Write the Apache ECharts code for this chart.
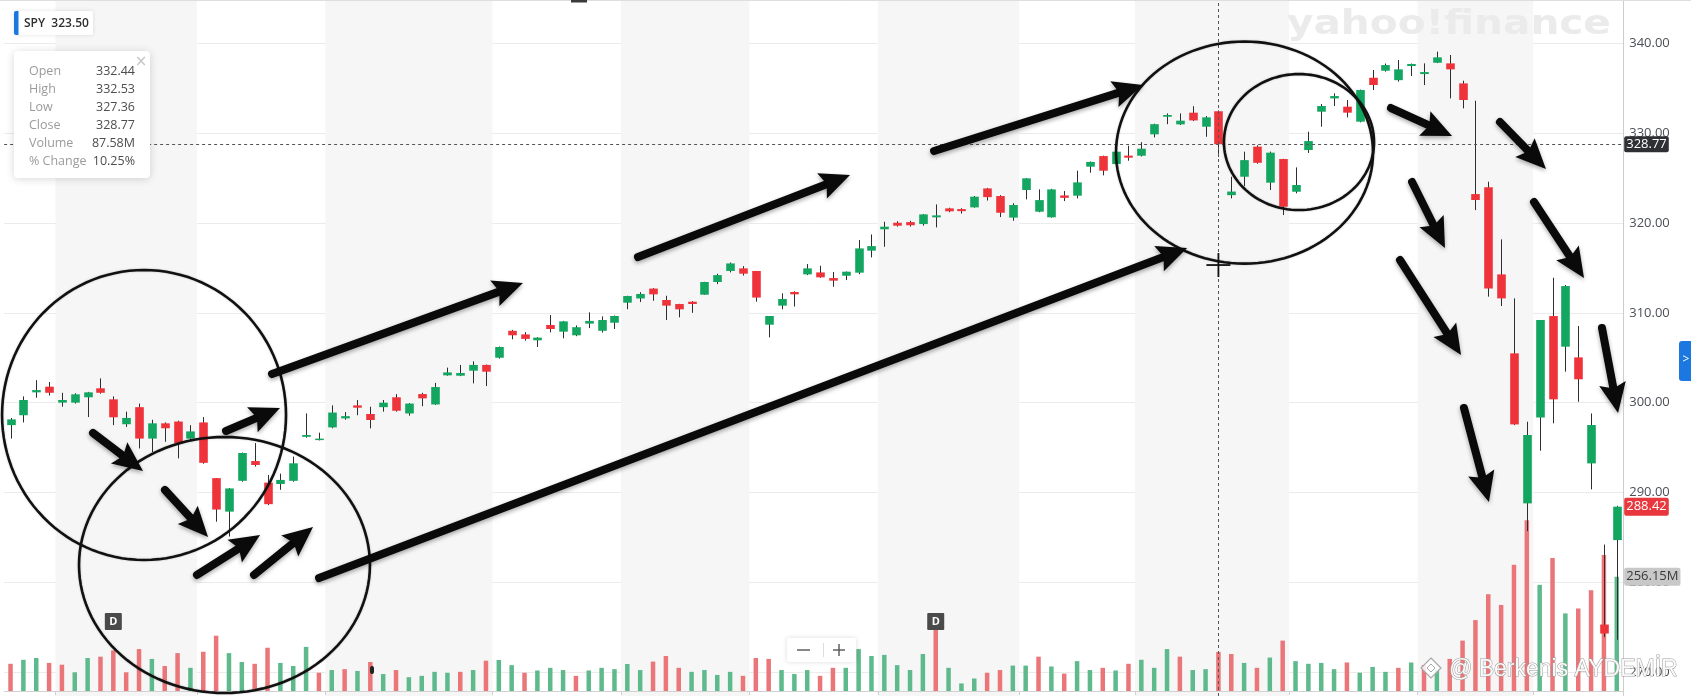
<!DOCTYPE html>
<html><head><meta charset="utf-8">
<script src="https://cdn.jsdelivr.net/npm/echarts@6/dist/echarts.min.js"></script>
<style>html,body{margin:0;padding:0;background:#fff;}#c{width:1691px;height:696px;}</style>
</head><body><div id="c"></div>
<script>
// ---------------- DATA (SPY daily) ----------------
const dates = [
'2019-09-10','2019-09-11','2019-09-12','2019-09-13','2019-09-16','2019-09-17','2019-09-18','2019-09-19','2019-09-20','2019-09-23','2019-09-24','2019-09-25','2019-09-26','2019-09-27','2019-09-30',
'2019-10-01','2019-10-02','2019-10-03','2019-10-04','2019-10-07','2019-10-08','2019-10-09','2019-10-10','2019-10-11','2019-10-14','2019-10-15','2019-10-16','2019-10-17','2019-10-18','2019-10-21','2019-10-22','2019-10-23','2019-10-24','2019-10-25','2019-10-28','2019-10-29','2019-10-30','2019-10-31',
'2019-11-01','2019-11-04','2019-11-05','2019-11-06','2019-11-07','2019-11-08','2019-11-11','2019-11-12','2019-11-13','2019-11-14','2019-11-15','2019-11-18','2019-11-19','2019-11-20','2019-11-21','2019-11-22','2019-11-25','2019-11-26','2019-11-27','2019-11-29',
'2019-12-02','2019-12-03','2019-12-04','2019-12-05','2019-12-06','2019-12-09','2019-12-10','2019-12-11','2019-12-12','2019-12-13','2019-12-16','2019-12-17','2019-12-18','2019-12-19','2019-12-20','2019-12-23','2019-12-24','2019-12-26','2019-12-27','2019-12-30','2019-12-31',
'2020-01-02','2020-01-03','2020-01-06','2020-01-07','2020-01-08','2020-01-09','2020-01-10','2020-01-13','2020-01-14','2020-01-15','2020-01-16','2020-01-17','2020-01-21','2020-01-22','2020-01-23','2020-01-24','2020-01-27','2020-01-28','2020-01-29','2020-01-30','2020-01-31',
'2020-02-03','2020-02-04','2020-02-05','2020-02-06','2020-02-07','2020-02-10','2020-02-11','2020-02-12','2020-02-13','2020-02-14','2020-02-18','2020-02-19','2020-02-20','2020-02-21','2020-02-24','2020-02-25','2020-02-26','2020-02-27','2020-02-28',
'2020-03-02','2020-03-03','2020-03-04','2020-03-05','2020-03-06','2020-03-09','2020-03-10'];

const opens = [297.5,298.6,301.15,301.78,300.0,300.0,300.6,301.6,300.37,297.6,299.5,296.0,297.7,297.9,296.0,
297.8,291.6,287.87,291.3,293.5,291.1,290.95,291.3,296.2,295.85,297.25,298.25,299.7,298.74,299.5,300.6,298.8,300.96,299.8,303.04,303.0,303.56,304.2,
305.0,308.0,307.6,306.94,308.65,307.9,307.5,308.8,308.0,308.9,311.13,311.6,312.7,311.43,310.98,311.24,312.02,313.43,314.66,314.95,
314.66,308.68,310.8,312.32,314.28,314.5,313.87,314.13,314.47,316.92,319.3,320.03,320.1,319.88,320.63,321.63,321.55,321.74,323.85,323.0,320.6,
323.67,321.26,320.63,323.07,323.04,326.27,327.45,326.56,327.5,327.49,329.87,331.83,330.98,332.28,330.72,332.44,323.1,325.15,328.5,324.49,327.12,
323.48,328.12,332.39,333.87,332.95,331.28,336.17,336.95,335.9,337.47,336.58,337.84,337.77,335.54,323.22,323.97,314.28,305.49,288.79,
298.36,309.64,306.23,305.04,293.24,275.3,284.7];

const highs = [298.3,300.7,302.5,302.3,301.1,301.05,301.2,302.7,300.7,299.0,299.9,298.1,297.8,298.0,297.5,
298.4,291.6,290.5,294.45,295.5,291.95,292.1,294.0,298.8,296.66,299.7,298.95,300.3,299.55,300.3,300.95,299.95,301.1,302.2,303.9,304.2,304.6,304.25,
306.25,308.1,307.85,307.3,309.76,309.1,308.6,310.05,309.6,309.7,311.9,312.3,312.75,311.9,311.0,311.3,313.45,314.35,315.6,315.2,
314.66,309.65,312.17,312.4,315.43,315.24,314.54,314.6,318.1,318.73,320.14,320.2,320.25,321.0,322.07,321.7,321.65,323.0,323.9,323.1,322.2,
325.0,323.74,323.8,323.56,325.82,326.85,327.5,328.0,328.6,329.0,331.05,332.2,332.2,333.0,331.9,332.53,325.15,327.94,328.65,327.95,327.15,
326.19,330.16,333.24,334.43,333.69,334.85,337.03,337.75,338.14,337.75,337.77,339.07,338.7,335.84,333.61,324.6,318.18,311.61,297.88,
309.2,313.91,313.1,308.53,298.8,284.2,288.52];

const lows = [296.0,297.8,300.55,300.8,299.55,299.9,298.4,301.0,297.5,297.3,294.9,294.5,295.65,293.8,295.85,
293.2,286.75,285.1,291.2,292.9,288.6,290.3,291.2,296.1,295.8,297.15,298.1,298.6,297.14,299.0,299.0,298.55,299.6,299.75,303.0,302.95,302.15,301.85,
304.9,307.05,306.9,306.2,307.83,307.16,307.4,308.3,307.8,308.2,310.4,311.2,311.35,309.2,309.5,310.0,312.0,313.2,314.5,314.15,
311.24,307.27,310.39,310.7,314.2,313.9,312.9,313.65,314.3,316.17,317.36,319.6,319.6,319.7,319.51,321.2,321.05,321.7,322.5,320.66,320.25,
322.63,321.2,320.6,322.44,322.74,325.6,325.3,326.5,326.93,327.4,329.53,331.0,330.9,331.35,329.6,327.36,322.74,324.1,326.6,323.67,320.89,
323.3,327.8,330.72,333.02,331.76,331.2,334.8,336.85,335.73,336.36,335.36,337.8,333.87,332.76,321.44,311.8,310.76,297.5,285.7,
294.65,297.7,303.45,300.1,290.35,273.9,273.6];

const closes = [298.14,300.3,301.4,301.1,300.3,300.93,301.15,301.1,298.37,298.3,296.0,297.7,297.15,295.5,296.8,
293.3,288.1,290.45,294.4,293.06,288.7,291.4,293.25,296.4,296.0,298.9,298.5,299.44,298.07,300.0,299.1,299.9,300.48,301.74,303.37,303.3,304.2,303.45,
306.2,307.5,307.1,307.24,308.2,309.05,308.4,309.1,309.2,309.65,311.87,312.1,312.06,310.8,310.39,310.98,313.43,314.2,315.5,314.36,
311.7,309.65,311.54,312.06,314.95,313.95,313.58,314.58,317.17,317.43,319.59,319.7,319.75,320.96,320.85,321.3,321.32,322.93,322.88,321.14,322.0,
324.97,322.55,323.74,322.8,324.52,326.8,325.82,327.94,327.27,328.27,331.0,332.02,331.39,331.42,331.76,328.77,323.5,327.0,326.7,327.83,321.81,
324.23,329.12,333.02,334.13,332.28,334.8,335.36,337.58,337.1,337.7,336.8,338.44,337.1,333.69,322.56,312.72,311.61,297.58,296.4,
309.2,300.37,312.98,302.6,297.51,274.3,288.42];

// volume in millions
const volumes = [61,70,74,63,59,42,74,77,91,42,94,72,56,85,52,
88,124,85,65,61,97,63,56,99,41,47,49,45,65,38,47,31,34,43,41,43,47,68,
69.5,58,41,46,52,47,34,46,52,49,60.5,47,66,78.5,52,43,47,36,43,34,
74,72,47,38,47,34,52,52,94,78.5,81,58,47,83,137,52,17,28,41,47,57,
57,77,55,39,67,47,52,46,61,70,52,94,77,47,49,87.58,83,63,52,75,113,
67,61,63,49,64,41,54,43,52,64,58,48,72,113,159,217,193,283,383,
238,298,174,185,226,305,256.15];

const prevClose = 298.2;          // close before the first bar (base of % change)
const crossIndex = 94;            // crosshair candle
const legendIndex = 95;           // price shown in the legend chip
const dividendIndex = [8, 72];    // "D" markers
const priceTickInterval = 10;

// hand-drawn annotations in data coordinates: [categoryIndex, price, ...]
const circleNotes = [   // [centerIdx, centerPrice, radiusIdx, radiusPrice]
  [10.39, 298.63, 11.05, 16.14],
  [16.65, 281.93, 11.32, 14.25],
  [96.03, 327.84, 10.0, 12.36],
  [100.27, 329.01, 5.84, 7.57]
];
const arrowNotes = [    // [tailIdx, tailPrice, tipIdx, tipPrice]
  [6.42, 296.62, 10.31, 292.39],
  [12.02, 290.28, 15.37, 285.05],
  [14.51, 280.82, 19.42, 285.27],
  [18.95, 280.82, 23.54, 286.16],
  [16.77, 296.85, 20.97, 299.41],
  [20.35, 303.19, 39.88, 313.32],
  [24.01, 280.48, 91.56, 317.22],
  [48.83, 316.21, 65.33, 325.34],
  [71.87, 328.01, 88.13, 335.36],
  [107.43, 332.8, 112.18, 329.68],
  [115.91, 331.24, 119.49, 326.01],
  [109.07, 324.56, 111.63, 317.22],
  [108.13, 315.88, 112.88, 305.31],
  [118.56, 322.34, 122.45, 313.88],
  [113.11, 299.41, 115.05, 288.94],
  [123.85, 308.31, 125.1, 298.85]
];
const cursorNote = [94, 315.32];

// ---------------- CHART ----------------
const GREEN = '#12a660', RED = '#ee343a', VGREEN = '#5eba8d', VRED = '#ea7679';
const FONT = '"Open Sans", "Noto Sans", sans-serif';

const chart = echarts.init(document.getElementById('c'), null, {renderer: 'canvas'});

const candleData = dates.map((d, i) => [i, opens[i], closes[i], lows[i], highs[i]]);
const volData = volumes.map((v, i) => ({
  value: v,
  itemStyle: {color: closes[i] >= (i ? closes[i - 1] : prevClose) ? VGREEN : VRED}
}));

function isHalfMonthEdge(i) {
  if (i <= 0 || i >= dates.length) return false;
  const a = dates[i].split('-').map(Number), b = dates[i - 1].split('-').map(Number);
  return a[1] !== b[1] || (a[2] >= 15 && b[2] < 15);
}

const hiddenLine = {color: 'rgba(0,0,0,0)', width: 0, type: 'solid'};

const option = {
  animation: false,
  textStyle: {fontFamily: FONT},
  grid: [
    {left: 4.1, right: 67.8, top: -46.5, bottom: -66, containLabel: false, outerBoundsMode: 'none'},
    {left: 4.1, right: 67.8, bottom: 5, height: 178.4, containLabel: false, outerBoundsMode: 'none'}
  ],
  xAxis: [
    {
      type: 'category', gridIndex: 0, data: dates, boundaryGap: true,
      axisLine: {show: false}, axisTick: {show: false}, axisLabel: {show: false},
      splitLine: {show: false},
      splitArea: {show: true, interval: (idx) => isHalfMonthEdge(idx),
        areaStyle: {color: ['rgba(255,255,255,0)', '#f6f6f6']}}
    },
    {
      type: 'category', gridIndex: 1, data: dates, boundaryGap: true,
      axisLine: {show: true, lineStyle: {color: '#d2d2d2', width: 1}},
      axisTick: {show: true, interval: (idx) => isHalfMonthEdge(idx), length: 4, lineStyle: {color: '#cfcfcf'}},
      axisLabel: {show: false}, splitLine: {show: false}, splitArea: {show: false}
    }
  ],
  yAxis: [
    {
      type: 'value', gridIndex: 0, position: 'right', min: 260, max: 350, interval: priceTickInterval,
      axisLine: {show: true, lineStyle: {color: '#cdcdcd', width: 1}},
      axisTick: {show: false},
      axisLabel: {show: true, margin: 6, color: '#4b4f56', fontSize: 13, fontFamily: FONT,
        formatter: (v) => v.toFixed(2)},
      splitLine: {show: true, lineStyle: {color: '#ebebeb', width: 1}}
    },
    {
      type: 'value', gridIndex: 1, min: 0, max: 400, show: false,
      splitLine: {show: false}
    }
  ],
  series: [
    {
      name: 'volume', type: 'bar', xAxisIndex: 1, yAxisIndex: 1, data: volData,
      barWidth: 4.5, z: 2, silent: true,
      markLine: {
        symbol: 'none', silent: true, animation: false,
        data: [{
          yAxis: volumes[volumes.length - 1],
          lineStyle: hiddenLine,
          label: {show: true, position: 'end', distance: 1,
            formatter: volumes[volumes.length - 1].toFixed(2) + 'M',
            backgroundColor: '#c8c8c8', color: '#3a3a3a', fontSize: 13, fontFamily: FONT,
            padding: [3, 2, 2, 2], borderRadius: 2}
        }]
      }
    },
    {
      name: 'SPY', type: 'custom', xAxisIndex: 0, yAxisIndex: 0, z: 4, silent: true,
      data: candleData,
      encode: {x: 0, y: [1, 2, 3, 4]},
      renderItem: function (params, api) {
        const i = api.value(0);
        const o = api.value(1), c = api.value(2), l = api.value(3), h = api.value(4);
        const pO = api.coord([i, o]), pC = api.coord([i, c]);
        const pL = api.coord([i, l]), pH = api.coord([i, h]);
        const x = Math.round(pO[0]) + 0.5;
        const w = 8.6;
        const top = Math.min(pO[1], pC[1]);
        const hh = Math.max(Math.abs(pO[1] - pC[1]), 1.5);
        return {
          type: 'group',
          children: [
            {type: 'line', shape: {x1: x, y1: pH[1], x2: x, y2: pL[1]},
              style: {stroke: '#2e2e2e', lineWidth: 1}},
            {type: 'rect', shape: {x: x - w / 2, y: top, width: w, height: hh},
              style: {fill: c >= o ? GREEN : RED}}
          ]
        };
      }
    },
    {
      name: 'crosshair', type: 'line', xAxisIndex: 0, yAxisIndex: 0, data: closes,
      symbol: 'none', showSymbol: false, lineStyle: {opacity: 0}, silent: true, z: 6,
      markLine: {
        symbol: 'none', silent: true, animation: false,
        data: [
          {xAxis: dates[crossIndex], lineStyle: {type: [3, 3], color: '#555', width: 1}, label: {show: false}},
          {yAxis: closes[crossIndex], lineStyle: {type: [3, 3], color: '#555', width: 1},
            label: {show: true, position: 'end', distance: 1, formatter: closes[crossIndex].toFixed(2),
              backgroundColor: '#2f3033', color: '#ffffff', fontSize: 13, fontFamily: FONT,
              padding: [2, 2, 1, 2], borderRadius: 2}},
          {yAxis: closes[closes.length - 1], lineStyle: hiddenLine,
            label: {show: true, position: 'end', distance: 1, formatter: closes[closes.length - 1].toFixed(2),
              backgroundColor: '#e8383d', color: '#ffffff', fontSize: 13, fontFamily: FONT,
              padding: [3, 2, 2, 2], borderRadius: 2}}
        ]
      }
    }
  ]
};
chart.setOption(option);

// ---------------- OVERLAY (UI chrome + hand drawn annotations) ----------------
function buildOverlay() {
  const x0 = chart.convertToPixel({xAxisIndex: 0}, 0);
  const step = chart.convertToPixel({xAxisIndex: 0}, 1) - x0;
  const px = (i) => x0 + i * step;
  const py = (p) => chart.convertToPixel({yAxisIndex: 0}, p);
  const els = [];
  const Z = 100;

  // top border + small dark mark
  els.push({type: 'line', z: Z, shape: {x1: 0, y1: 0.5, x2: 1691, y2: 0.5}, style: {stroke: '#dedede', lineWidth: 1}});
  els.push({type: 'rect', z: Z, shape: {x: 571, y: 0, width: 16, height: 2.5}, style: {fill: '#3a3a3a'}});

  // watermark
  els.push({type: 'text', z: Z - 10, x: 1287, y: 42, scaleX: 1.23, style: {
    text: 'yahoo!finance', font: 'bold 33px "DejaVu Sans", sans-serif', fill: '#ebebeb',
    align: 'left', textAlign: 'left', verticalAlign: 'bottom', textVerticalAlign: 'bottom', textBaseline: 'alphabetic'}});

  // legend chip
  els.push({type: 'rect', z: Z, shape: {x: 14, y: 11, width: 79, height: 24, r: 2},
    style: {fill: '#fff', shadowBlur: 4, shadowColor: 'rgba(0,0,0,0.12)'}});
  els.push({type: 'rect', z: Z + 1, shape: {x: 14, y: 11, width: 4.5, height: 24, r: [2, 0, 0, 2]}, style: {fill: '#1a78e0'}});
  els.push({type: 'text', z: Z + 1, x: 24, y: 23.5, style: {
    text: 'SPY  ' + closes[legendIndex].toFixed(2), font: '600 12px ' + FONT, fill: '#2f2f2f',
    align: 'left', textAlign: 'left', verticalAlign: 'middle', textVerticalAlign: 'middle'}});

  // tooltip box
  els.push({type: 'rect', z: Z, shape: {x: 14, y: 51, width: 136, height: 127, r: 4},
    style: {fill: '#fff', shadowBlur: 8, shadowColor: 'rgba(0,0,0,0.16)', shadowOffsetY: 1}});
  const pct = ((closes[crossIndex] / prevClose - 1) * 100).toFixed(2) + '%';
  const rows = [
    ['Open', opens[crossIndex].toFixed(2)],
    ['High', highs[crossIndex].toFixed(2)],
    ['Low', lows[crossIndex].toFixed(2)],
    ['Close', closes[crossIndex].toFixed(2)],
    ['Volume', volumes[crossIndex].toFixed(2) + 'M'],
    ['% Change', pct]
  ];
  rows.forEach((r, k) => {
    const yy = 71 + 18 * k;
    els.push({type: 'text', z: Z + 1, x: 29, y: yy, style: {text: r[0], font: '12.5px ' + FONT, fill: '#9b9b9b',
      align: 'left', textAlign: 'left', verticalAlign: 'middle', textVerticalAlign: 'middle'}});
    els.push({type: 'text', z: Z + 1, x: 135, y: yy, style: {text: r[1], font: '12.5px ' + FONT, fill: '#4d4d4d',
      align: 'right', textAlign: 'right', verticalAlign: 'middle', textVerticalAlign: 'middle'}});
  });
  els.push({type: 'text', z: Z + 1, x: 141, y: 62, style: {text: '×', font: '15px "DejaVu Sans", sans-serif', fill: '#c4c4c4',
    align: 'center', textAlign: 'center', verticalAlign: 'middle', textVerticalAlign: 'middle'}});

  // dividend markers
  dividendIndex.forEach((i) => {
    const cx = px(i);
    els.push({type: 'rect', z: Z, shape: {x: cx - 8.5, y: 613, width: 17, height: 17, r: 1}, style: {fill: '#4a4a4a'}});
    els.push({type: 'text', z: Z + 1, x: cx, y: 621.5, style: {text: 'D', font: 'bold 11px ' + FONT, fill: '#fff',
      align: 'center', textAlign: 'center', verticalAlign: 'middle', textVerticalAlign: 'middle'}});
  });

  // zoom control
  els.push({type: 'rect', z: Z, shape: {x: 787, y: 638, width: 69, height: 24, r: 2},
    style: {fill: '#fff', shadowBlur: 5, shadowColor: 'rgba(0,0,0,0.14)'}});
  els.push({type: 'line', z: Z + 1, shape: {x1: 797, y1: 650, x2: 810, y2: 650}, style: {stroke: '#555', lineWidth: 1.4}});
  els.push({type: 'line', z: Z + 1, shape: {x1: 823.5, y1: 643, x2: 823.5, y2: 657}, style: {stroke: '#dcdcdc', lineWidth: 1}});
  els.push({type: 'line', z: Z + 1, shape: {x1: 833, y1: 650, x2: 845, y2: 650}, style: {stroke: '#555', lineWidth: 1.4}});
  els.push({type: 'line', z: Z + 1, shape: {x1: 839, y1: 644, x2: 839, y2: 656}, style: {stroke: '#555', lineWidth: 1.4}});

  // small cursor blob
  els.push({type: 'rect', z: Z, shape: {x: 370, y: 666, width: 4, height: 8, r: 2}, style: {fill: '#222'}});

  // blue side tab
  els.push({type: 'rect', z: Z, shape: {x: 1679, y: 341, width: 14, height: 40, r: [3, 0, 0, 3]}, style: {fill: '#1a78e0'}});
  els.push({type: 'text', z: Z + 1, x: 1686, y: 360, style: {text: '>', font: '12px ' + FONT, fill: '#fff',
    align: 'center', textAlign: 'center', verticalAlign: 'middle', textVerticalAlign: 'middle'}});

  // circles (ellipses)
  circleNotes.forEach((c) => {
    const cx = px(c[0]), cy = py(c[1]);
    const rx = c[2] * step, ry = Math.abs(py(c[1] + c[3]) - cy);
    const pts = [];
    for (let k = 0; k <= 120; k++) {
      const t = k / 120 * Math.PI * 2;
      pts.push([cx + rx * Math.cos(t), cy + ry * Math.sin(t)]);
    }
    els.push({type: 'polyline', z: Z + 2, shape: {points: pts},
      style: {stroke: '#111', lineWidth: 2.6, fill: null, shadowBlur: 2, shadowColor: 'rgba(0,0,0,0.25)'}});
  });

  // arrows
  arrowNotes.forEach((a) => {
    const tx = px(a[0]), ty = py(a[1]), hx = px(a[2]), hy = py(a[3]);
    const dx = hx - tx, dy = hy - ty, len = Math.sqrt(dx * dx + dy * dy);
    const ux = dx / len, uy = dy / len, nx = -uy, ny = ux;
    const L = 30, W = 13.5;
    const bx = hx - ux * L, by = hy - uy * L;
    const sh = {shadowBlur: 4, shadowColor: 'rgba(0,0,0,0.35)', shadowOffsetY: 2};
    els.push({type: 'line', z: Z + 3, shape: {x1: tx, y1: ty, x2: bx + ux * 4, y2: by + uy * 4},
      style: Object.assign({stroke: '#0a0a0a', lineWidth: 8, lineCap: 'round'}, sh)});
    els.push({type: 'polygon', z: Z + 3, shape: {points: [[hx, hy], [bx + nx * W, by + ny * W], [bx + ux * 5, by + uy * 5], [bx - nx * W, by - ny * W]]},
      style: Object.assign({fill: '#0a0a0a'}, sh)});
  });

  // mouse cursor cross
  const cxp = px(cursorNote[0]), cyp = py(cursorNote[1]);
  els.push({type: 'line', z: Z + 4, shape: {x1: cxp - 12, y1: cyp, x2: cxp + 12, y2: cyp}, style: {stroke: '#111', lineWidth: 1.8}});
  els.push({type: 'line', z: Z + 4, shape: {x1: cxp, y1: cyp - 12, x2: cxp, y2: cyp + 12}, style: {stroke: '#111', lineWidth: 1.8}});

  // author watermark (bottom right)
  const dx0 = 1431, dy0 = 668;
  els.push({type: 'polygon', z: Z + 5, shape: {points: [[dx0, dy0 - 10], [dx0 + 10, dy0], [dx0, dy0 + 10], [dx0 - 10, dy0]]},
    style: {fill: 'rgba(255,255,255,0.85)', stroke: '#a8a8a8', lineWidth: 1.2}});
  els.push({type: 'polygon', z: Z + 5, shape: {points: [[dx0, dy0 - 4], [dx0 + 4, dy0], [dx0, dy0 + 4], [dx0 - 4, dy0]]},
    style: {fill: 'rgba(255,255,255,0.9)', stroke: '#a8a8a8', lineWidth: 1}});
  els.push({type: 'text', z: Z + 5, x: 1449, y: 670, style: {
    text: '@ Berkenis AYDEMİR', font: '23px "Liberation Sans", Arial, sans-serif',
    fill: 'rgba(255,255,255,0.92)', stroke: '#9c9c9c', lineWidth: 1,
    align: 'left', textAlign: 'left', verticalAlign: 'middle', textVerticalAlign: 'middle'}});

  chart.setOption({graphic: {elements: els}});
}
buildOverlay();
</script>
</body></html>
